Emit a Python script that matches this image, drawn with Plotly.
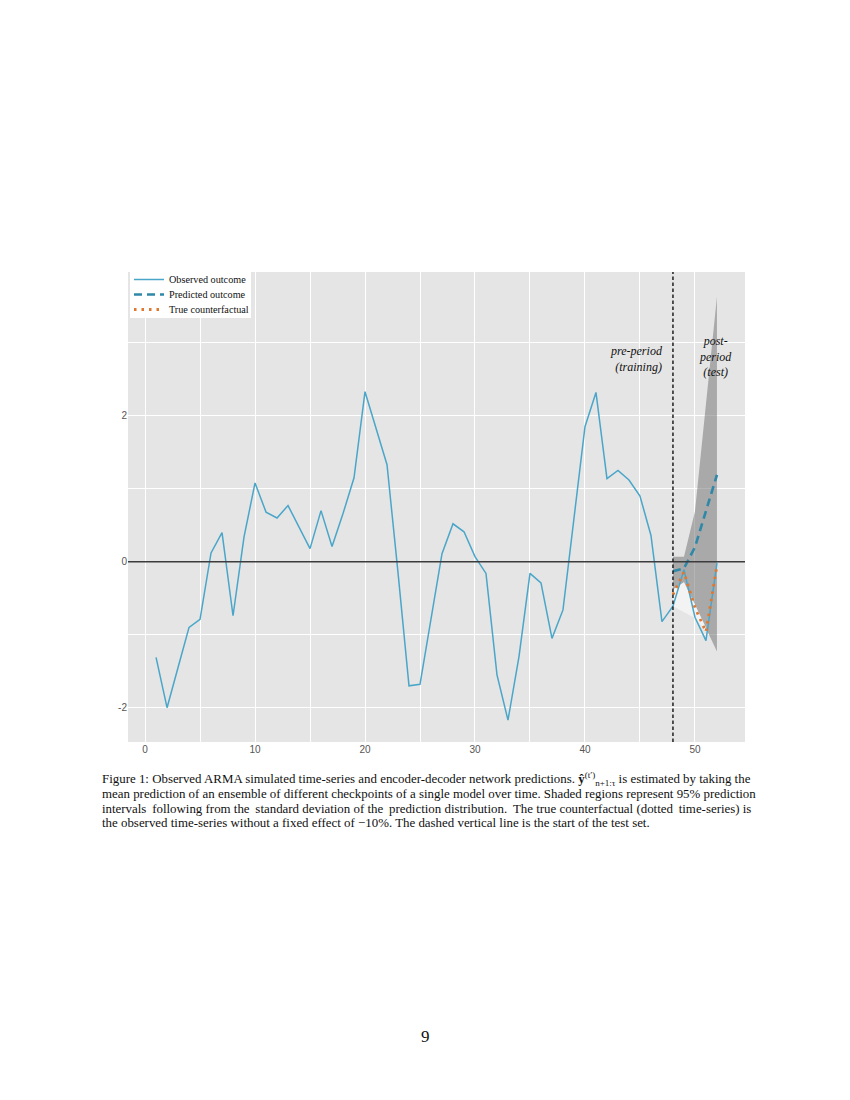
import plotly.graph_objects as go

# ---------------- data ----------------
t_obs = list(range(1, 53))
observed = [-1.31, -2.00, -1.45, -0.90, -0.79, 0.12, 0.40, -0.74, 0.34, 1.08,
            0.68, 0.60, 0.77, 0.48, 0.18, 0.70, 0.21, 0.66, 1.15, 2.33,
            1.84, 1.33, -0.15, -1.70, -1.68, -0.78, 0.11, 0.52, 0.41, 0.07,
            -0.16, -1.55, -2.17, -1.30, -0.16, -0.29, -1.05, -0.66, 0.62, 1.85,
            2.32, 1.14, 1.25, 1.12, 0.90, 0.36, -0.82, -0.61, -0.11, -0.76,
            -1.08, -0.02]

t_test = [48, 49, 50, 51, 52]
predicted = [-0.13, -0.09, 0.20, 0.68, 1.19]
pred_upper = [0.07, 0.07, 0.69, 2.19, 3.63]
pred_lower = [-0.38, -0.28, -0.59, -0.90, -1.23]
counterfactual = [-0.45, -0.14, -0.63, -0.96, -0.05]

t_gap = [48, 49, 50, 51]
gap_lower = [-0.61, -0.69, -0.77, -0.95]

test_start = 48
x_ticks = [0, 5, 10, 15, 20, 25, 30, 35, 40, 45, 50]
x_ticktext = ["0", "", "10", "", "20", "", "30", "", "40", "", "50"]
y_ticks = [-2, -1, 0, 1, 2, 3]
y_ticktext = ["-2", "", "0", "", "2", ""]

legend_labels = ["Observed outcome", "Predicted outcome", "True counterfactual"]

TS = "\u2009"  # thin space used to stretch the third caption line
caption_lines = [
    "Figure 1: Observed ARMA simulated time-series and encoder-decoder network predictions. "
    "<b>ŷ</b><sup>(t′)</sup><sub>n+1:τ</sub> is estimated by taking the",
    "mean prediction of an ensemble of different checkpoints of a single model over time. "
    "Shaded regions represent 95% prediction",
    "intervals " + TS + "following from the " + TS + "standard deviation of the " + TS
    + "prediction distribution. " + TS + "The true counterfactual (dotted " + TS + "time-series) is",
    "the observed time-series without a fixed effect of −10%. "
    "The dashed vertical line is the start of the test set.",
]

BLUE = "#4aa6c9"
DBLUE = "#2f88a8"
ORANGE = "#e0782f"
SERIF = "Liberation Serif, Times New Roman, serif"
SANS = "Liberation Sans, Arial, sans-serif"

# plot area in page pixels
L, R, T, B = 128, 745, 272, 742
W, H = R - L, B - T


def px(xp):
    return (xp - L) / W


def py(yp):
    return (B - yp) / H


fig = go.Figure()

# shaded prediction interval
fig.add_trace(go.Scatter(x=t_test, y=pred_upper, mode="lines", line=dict(width=0),
                         showlegend=False, hoverinfo="skip"))
fig.add_trace(go.Scatter(x=t_test, y=pred_lower, mode="lines", line=dict(width=0),
                         fill="tonexty", fillcolor="rgba(120,120,120,0.55)",
                         showlegend=False, hoverinfo="skip"))
# light region under the interval
fig.add_trace(go.Scatter(x=t_gap, y=pred_lower[:4], mode="lines", line=dict(width=0),
                         showlegend=False, hoverinfo="skip"))
fig.add_trace(go.Scatter(x=t_gap, y=gap_lower, mode="lines", line=dict(width=0),
                         fill="tonexty", fillcolor="rgba(250,250,250,0.7)",
                         showlegend=False, hoverinfo="skip"))

styles = [dict(color=BLUE, width=1.5),
          dict(color=DBLUE, width=2.6, dash="8px,5px"),
          dict(color=ORANGE, width=2.8, dash="2.5px,5px")]

fig.add_trace(go.Scatter(x=t_obs, y=observed, mode="lines", name=legend_labels[0],
                         line=styles[0], showlegend=False))
fig.add_trace(go.Scatter(x=t_test, y=predicted, mode="lines", name=legend_labels[1],
                         line=styles[1], showlegend=False))
fig.add_trace(go.Scatter(x=t_test, y=counterfactual, mode="lines", name=legend_labels[2],
                         line=styles[2], showlegend=False))

# reference lines
fig.add_shape(type="line", xref="paper", yref="y", x0=0, x1=1, y0=0, y1=0,
              line=dict(color="#3c3c3c", width=1.4), layer="above")
fig.add_shape(type="line", xref="x", yref="paper", x0=test_start, x1=test_start, y0=0, y1=1,
              line=dict(color="#111111", width=1.4, dash="3.5px,2.5px"), layer="above")

# legend (drawn by hand for compact spacing)
fig.add_shape(type="rect", xref="paper", yref="paper", x0=px(130), x1=px(251),
              y0=py(318), y1=py(272), fillcolor="white", line=dict(width=0), layer="above")
for i, (lab, st) in enumerate(zip(legend_labels, styles)):
    yy = 279.5 + 15 * i
    fig.add_shape(type="line", xref="paper", yref="paper", x0=px(134), x1=px(164),
                  y0=py(yy), y1=py(yy), line=st, layer="above")
    fig.add_annotation(x=px(167), y=py(yy), xref="paper", yref="paper", xanchor="left",
                       yanchor="middle", text=lab, showarrow=False,
                       font=dict(family=SERIF, size=10.2, color="#111111"))

# period labels
fig.add_annotation(x=47.3, y=2.78, xref="x", yref="y", xanchor="right", yanchor="middle",
                   text="<i>pre-period</i><br><i>(training)</i>", showarrow=False, align="right",
                   font=dict(family=SERIF, size=12, color="#111111"))
fig.add_annotation(x=51.9, y=2.81, xref="x", yref="y", xanchor="center", yanchor="middle",
                   text="<i>post-</i><br><i>period</i><br><i>(test)</i>", showarrow=False,
                   align="center", font=dict(family=SERIF, size=12, color="#111111"))

# caption
cap_y = [779, 794, 809, 823]
for line, yy in zip(caption_lines, cap_y):
    fig.add_annotation(x=px(100), y=py(yy), xref="paper", yref="paper",
                       xanchor="left", yanchor="middle", text=line, showarrow=False,
                       align="left", font=dict(family=SERIF, size=12.9, color="#111111"))

fig.add_annotation(x=px(425), y=py(1036), xref="paper", yref="paper",
                   xanchor="center", yanchor="middle",
                   text="9", showarrow=False, font=dict(family=SERIF, size=17, color="#111111"))

fig.update_layout(
    width=850, height=1100,
    margin=dict(l=L, r=850 - R, t=T, b=1100 - B, pad=0),
    paper_bgcolor="white", plot_bgcolor="#e5e5e5",
    showlegend=False,
    xaxis=dict(range=[-1.55, 54.55], tickvals=x_ticks, ticktext=x_ticktext,
               showgrid=True, gridcolor="white", gridwidth=1, zeroline=False,
               ticks="", showline=False, automargin=False,
               tickfont=dict(family=SANS, size=10, color="#555555")),
    yaxis=dict(range=[-2.47, 3.97], tickvals=y_ticks, ticktext=y_ticktext,
               showgrid=True, gridcolor="white", gridwidth=1, zeroline=False,
               ticks="", showline=False, automargin=False,
               tickfont=dict(family=SANS, size=10, color="#555555")),
)

fig.write_html("out.html", config={"displayModeBar": False},
               post_script="document.body.style.margin='0px';")
